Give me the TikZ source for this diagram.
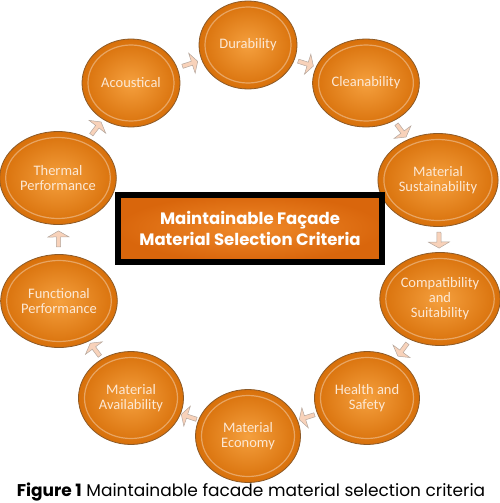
\documentclass[tikz,border=0pt]{standalone}
\usepackage{fontspec}
\setmainfont{Carlito}
\newfontfamily\gothic{Poppins}
\usetikzlibrary{shapes.geometric, shapes.arrows, positioning, calc}

\definecolor{critlight}{HTML}{F5A03E}
\definecolor{critdark}{HTML}{D8700A}
\definecolor{critrim}{HTML}{8C5A28}
\definecolor{crittext}{HTML}{FCE8D4}
\definecolor{arrowfill}{HTML}{F8D2BA}
\definecolor{arrowrim}{HTML}{B4A69C}
\definecolor{boxlight}{HTML}{F08A2A}
\definecolor{boxdark}{HTML}{D9660C}

\begin{document}
\begin{tikzpicture}[x=1pt, y=-1pt,
    crit/.style={ellipse, minimum width=105pt, minimum height=93pt,
        inner color=critlight, outer color=critdark, draw=critrim, line width=0.8pt,
        text=crittext, align=center, font=\fontsize{14.5}{15}\selectfont,
        path picture={\draw [white, opacity=0.35, line width=1.2pt]
            let \p1=(path picture bounding box.north east), \p2=(path picture bounding box.center)
            in (\p2) ellipse [x radius={\x1-\x2-6pt}, y radius={\y1-\y2-6pt}];}},
    small/.style={minimum width=98pt, minimum height=88pt},
    flow/.style={single arrow, sloped, allow upside down, minimum height=16pt, minimum width=21pt,
        single arrow head extend=1pt, single arrow tip angle=120, inner sep=0pt,
        fill=arrowfill, draw=arrowrim, line width=0.5pt},
    title/.style={rectangle, minimum width=264pt, minimum height=67pt,
        inner color=boxlight, outer color=boxdark, draw=black, line width=6pt,
        text=white, align=center, font=\gothic\bfseries\fontsize{16.5}{21}\selectfont}]
                \useasboundingbox (0,0) rectangle (500,503);

                \node (dur) [crit,small] at (248,45) {Durability};
                \node (clean) [crit,small] at (366,83) {Cleanability};
                \node (sust) [crit] at (438,180) {Material\\Sustainability};
                \node (comp) [crit] at (440,299) {Compatibility\\and\\Suitability};
                \node (health) [crit] at (367,398) {Health and\\Safety};
                \node (econ) [crit] at (248,436) {Material\\Economy};
                \node (avail) [crit] at (131,398) {Material\\Availability};
                \node (func) [crit] at (59,301) {Functional\\Performance};
                \node (therm) [crit] at (58,178) {Thermal\\Performance};
                \node (acou) [crit,small] at (131,83) {Acoustical};

                \node (crit) [title] at (250,228) {Maintainable Façade\\Material Selection Criteria};

                \path
                    (acou) -- node [flow] {} (dur)
                    (dur) -- node [flow] {} (clean)
                    (clean) -- node [flow] {} (sust)
                    (sust) -- node [flow] {} (comp)
                    (comp) -- node [flow] {} (health)
                    (health) -- node [flow] {} (econ)
                    (econ) -- node [flow] {} (avail)
                    (avail) -- node [flow] {} (func)
                    (func) -- node [flow] {} (therm)
                    (therm) -- node [flow] {} (acou);

                \node (cap) [anchor=base, font=\gothic\fontsize{17}{20}\selectfont] at (251,496)
                    {{\bfseries Figure 1} Maintainable facade material selection criteria};
            \end{tikzpicture}
\end{document}
